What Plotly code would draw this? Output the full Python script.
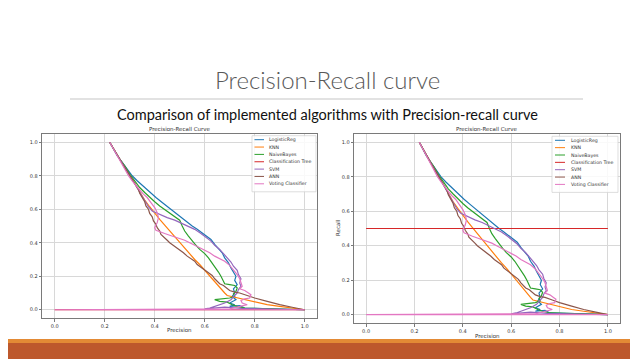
import plotly.graph_objects as go

W, H = 638, 359

names = ["LogisticReg", "KNN", "NaiveBayes", "Classification Tree", "SVM", "ANN", "Voting Classifier"]
colors = ["#1f77b4", "#ff7f0e", "#2ca02c", "#d62728", "#9467bd", "#8c564b", "#e377c2"]

tick_vals = [0.0, 0.2, 0.4, 0.6, 0.8, 1.0]
tick_text = ["0.0", "0.2", "0.4", "0.6", "0.8", "1.0"]

logreg_p = [0.22, 0.235, 0.25, 0.27, 0.29, 0.31, 0.33, 0.355, 0.38, 0.405, 0.43, 0.455, 0.48, 0.505, 0.53, 0.55,
            0.57, 0.59, 0.61, 0.625, 0.64, 0.655, 0.67, 0.68, 0.695, 0.705, 0.715, 0.725, 0.72, 0.73, 0.715, 0.72,
            0.71, 0.725, 0.70, 0.72, 0.70, 0.74, 0.76, 1.0]
logreg_r = [1.0, 0.96, 0.92, 0.88, 0.84, 0.80, 0.77, 0.735, 0.70, 0.67, 0.64, 0.61, 0.585, 0.555, 0.525, 0.50,
            0.48, 0.46, 0.44, 0.42, 0.39, 0.365, 0.34, 0.31, 0.28, 0.25, 0.225, 0.20, 0.175, 0.15, 0.125, 0.10,
            0.08, 0.06, 0.04, 0.03, 0.02, 0.025, 0.01, 0.0]

knn_p = [0.22, 0.24, 0.26, 0.28, 0.30, 0.32, 0.34, 0.36, 0.38, 0.40, 0.42, 0.44, 0.46, 0.48, 0.50, 0.52, 0.54,
         0.56, 0.58, 0.60, 0.62, 0.64, 0.66, 0.68, 0.69, 0.72, 0.76, 0.80, 0.85, 0.90, 0.95, 1.0]
knn_r = [1.0, 0.95, 0.90, 0.85, 0.80, 0.75, 0.70, 0.655, 0.615, 0.575, 0.54, 0.505, 0.47, 0.435, 0.40, 0.37, 0.335,
         0.30, 0.27, 0.235, 0.20, 0.165, 0.13, 0.10, 0.085, 0.075, 0.06, 0.045, 0.03, 0.02, 0.01, 0.0]

nb_p = [0.22, 0.24, 0.26, 0.28, 0.30, 0.32, 0.34, 0.36, 0.38, 0.40, 0.42, 0.44, 0.46, 0.48, 0.50, 0.51, 0.52,
        0.535, 0.55, 0.565, 0.58, 0.60, 0.615, 0.63, 0.64, 0.655, 0.665, 0.675, 0.68, 0.70, 0.72, 0.73, 0.725,
        0.715, 0.72, 0.70, 0.67, 0.64, 0.66, 0.69, 0.71, 0.73, 0.76, 1.0]
nb_r = [1.0, 0.95, 0.90, 0.86, 0.81, 0.77, 0.73, 0.70, 0.67, 0.645, 0.62, 0.60, 0.58, 0.56, 0.535, 0.50, 0.47,
        0.44, 0.41, 0.385, 0.36, 0.335, 0.31, 0.28, 0.255, 0.225, 0.20, 0.175, 0.155, 0.15, 0.145, 0.13, 0.11,
        0.095, 0.08, 0.07, 0.065, 0.06, 0.05, 0.045, 0.03, 0.02, 0.01, 0.0]

tree_left_p = [0.0, 1.0]
tree_left_r = [0.0, 0.0]
tree_right_p = [0.0, 1.0]
tree_right_r = [0.5, 0.5]

svm_p = [0.22, 0.24, 0.26, 0.28, 0.30, 0.32, 0.34, 0.36, 0.375, 0.39, 0.42, 0.45, 0.48, 0.51, 0.535, 0.56, 0.585,
         0.605, 0.625, 0.64, 0.66, 0.675, 0.69, 0.705, 0.715, 0.73, 0.735, 0.745, 0.74, 0.745, 0.735, 0.73, 0.72,
         0.705, 0.68, 0.65, 0.62, 0.60, 0.68, 0.75, 1.0]
svm_r = [1.0, 0.95, 0.90, 0.85, 0.80, 0.75, 0.70, 0.65, 0.615, 0.59, 0.57, 0.55, 0.535, 0.515, 0.50, 0.48, 0.455,
         0.435, 0.41, 0.385, 0.36, 0.335, 0.31, 0.285, 0.26, 0.235, 0.21, 0.185, 0.16, 0.14, 0.12, 0.10, 0.085,
         0.06, 0.04, 0.025, 0.01, 0.005, 0.015, 0.008, 0.0]

ann_p = [0.22, 0.235, 0.25, 0.265, 0.28, 0.295, 0.31, 0.32, 0.335, 0.34, 0.35, 0.36, 0.365, 0.375, 0.38, 0.39,
         0.395, 0.405, 0.41, 0.42, 0.425, 0.44, 0.45, 0.46, 0.475, 0.485, 0.50, 0.515, 0.53, 0.545, 0.56, 0.57,
         0.585, 0.60, 0.615, 0.63, 0.64, 0.65, 0.66, 0.675, 0.69, 0.70, 0.72, 0.74, 0.77, 0.80, 0.85, 0.90, 0.95, 1.0]
ann_r = [1.0, 0.96, 0.92, 0.885, 0.85, 0.815, 0.78, 0.75, 0.72, 0.695, 0.67, 0.645, 0.62, 0.60, 0.575, 0.555,
         0.53, 0.51, 0.49, 0.47, 0.45, 0.425, 0.415, 0.40, 0.385, 0.37, 0.355, 0.34, 0.32, 0.305, 0.29, 0.27,
         0.255, 0.24, 0.22, 0.205, 0.185, 0.17, 0.155, 0.145, 0.13, 0.115, 0.105, 0.10, 0.085, 0.07, 0.05, 0.03, 0.015, 0.0]

vote_p = [0.22, 0.235, 0.25, 0.265, 0.28, 0.295, 0.31, 0.325, 0.34, 0.355, 0.37, 0.385, 0.40, 0.41, 0.415, 0.41,
          0.40, 0.405, 0.42, 0.44, 0.46, 0.48, 0.50, 0.52, 0.54, 0.56, 0.58, 0.60, 0.62, 0.64, 0.66, 0.68, 0.70,
          0.715, 0.73, 0.74, 0.745, 0.75, 0.74, 0.76, 0.775, 0.785, 0.78, 0.76, 0.745, 0.75, 0.77, 0.74, 0.72,
          0.70, 0.0, 1.0]
vote_r = [1.0, 0.96, 0.92, 0.88, 0.84, 0.80, 0.77, 0.74, 0.715, 0.69, 0.67, 0.64, 0.61, 0.58, 0.55, 0.52,
          0.49, 0.475, 0.465, 0.455, 0.445, 0.435, 0.425, 0.415, 0.40, 0.385, 0.37, 0.355, 0.34, 0.32, 0.305, 0.29,
          0.265, 0.24, 0.21, 0.185, 0.16, 0.14, 0.125, 0.115, 0.10, 0.09, 0.07, 0.065, 0.055, 0.04, 0.03, 0.02,
          0.01, 0.005, 0.0, 0.0]

left_series = [(logreg_p, logreg_r), (knn_p, knn_r), (nb_p, nb_r), (tree_left_p, tree_left_r),
               (svm_p, svm_r), (ann_p, ann_r), (vote_p, vote_r)]
right_series = [(logreg_p, logreg_r), (knn_p, knn_r), (nb_p, nb_r), (tree_right_p, tree_right_r),
                (svm_p, svm_r), (ann_p, ann_r), (vote_p, vote_r)]


def px(x):
    return x / W


def py(y):
    return 1 - y / H


fig = go.Figure()
for (p, r), n, c in zip(left_series, names, colors):
    fig.add_trace(go.Scatter(x=p, y=r, mode="lines", name=n, line=dict(color=c, width=1.2),
                             xaxis="x", yaxis="y", showlegend=False))
for (p, r), n, c in zip(right_series, names, colors):
    fig.add_trace(go.Scatter(x=p, y=r, mode="lines", name=n, line=dict(color=c, width=1.2),
                             xaxis="x2", yaxis="y2", showlegend=False))

axis_common = dict(range=[-0.05, 1.05], tickvals=tick_vals, ticktext=tick_text, showgrid=True,
                   gridcolor="#d8d8d8", gridwidth=0.7, zeroline=False, showline=True, mirror=True,
                   linecolor="#7a7a7a", linewidth=0.8, ticks="outside", ticklen=2.5, tickcolor="#7a7a7a",
                   tickfont=dict(family="DejaVu Sans", size=5, color="#333333"))

fig.update_layout(
    width=W, height=H, margin=dict(l=0, r=0, t=0, b=0),
    paper_bgcolor="white", plot_bgcolor="white",
    xaxis=dict(domain=[px(34.2), px(309.2)], anchor="y", **axis_common),
    yaxis=dict(domain=[py(310.1), py(125.9)], anchor="x", **axis_common),
    xaxis2=dict(domain=[px(346.0), px(612.0)], anchor="y2", **axis_common),
    yaxis2=dict(domain=[py(315.3), py(125.7)], anchor="x2", **axis_common),
)

shapes = []
annotations = []

# slide decoration
shapes.append(dict(type="line", xref="paper", yref="paper", x0=px(62), x1=px(575), y0=py(91), y1=py(91),
                   line=dict(color="#d9d9d9", width=1.5)))
shapes.append(dict(type="rect", xref="paper", yref="paper", x0=0, x1=1, y0=py(335), y1=py(331),
                   line=dict(width=0), fillcolor="#e38a35"))
shapes.append(dict(type="rect", xref="paper", yref="paper", x0=0, x1=1, y0=0, y1=py(335),
                   line=dict(width=0), fillcolor="#bd582c"))

annotations.append(dict(text="Precision-Recall curve", xref="paper", yref="paper", x=0.5, y=py(72),
                        showarrow=False, xanchor="center", yanchor="middle",
                        font=dict(family="Lato", size=24, color="#595959", weight=300)))
annotations.append(dict(text="Comparison of implemented algorithms with Precision-recall curve", xref="paper",
                        yref="paper", x=0.5, y=py(106), showarrow=False, xanchor="center", yanchor="middle",
                        font=dict(family="Lato", size=14.5, color="#111111")))

small = dict(family="DejaVu Sans", size=5.5, color="#333333")

# chart titles and axis labels
annotations.append(dict(text="Precision-Recall Curve", xref="paper", yref="paper", x=px(171.7), y=py(121),
                        showarrow=False, xanchor="center", yanchor="middle", font=small))
annotations.append(dict(text="Precision", xref="paper", yref="paper", x=px(171.7), y=py(322),
                        showarrow=False, xanchor="center", yanchor="middle", font=small))
annotations.append(dict(text="Precision-Recall Curve", xref="paper", yref="paper", x=px(479), y=py(120.5),
                        showarrow=False, xanchor="center", yanchor="middle", font=small))
annotations.append(dict(text="Precision", xref="paper", yref="paper", x=px(479), y=py(327.5),
                        showarrow=False, xanchor="center", yanchor="middle", font=small))
annotations.append(dict(text="Recall", xref="paper", yref="paper", x=px(330), y=py(220),
                        showarrow=False, xanchor="center", yanchor="middle", textangle=-90, font=small))

# legends (manual, matplotlib-like)
def add_legend(box_x0, box_x1, top, spacing, line_x0, line_x1, text_x):
    n = len(names)
    shapes.append(dict(type="rect", xref="paper", yref="paper", x0=px(box_x0), x1=px(box_x1),
                       y0=py(top + 4 + spacing * (n - 1) + 4), y1=py(top - 4),
                       line=dict(color="#d0d0d0", width=0.7), fillcolor="rgba(255,255,255,0.85)"))
    for i, (nm, c) in enumerate(zip(names, colors)):
        yy = top + i * spacing
        shapes.append(dict(type="line", xref="paper", yref="paper", x0=px(line_x0), x1=px(line_x1),
                           y0=py(yy), y1=py(yy), line=dict(color=c, width=1)))
        annotations.append(dict(text=nm, xref="paper", yref="paper", x=px(text_x), y=py(yy),
                                showarrow=False, xanchor="left", yanchor="middle",
                                font=dict(family="DejaVu Sans", size=4.7, color="#333333")))


add_legend(244, 308, 131.7, 7.35, 246.5, 256, 259)
add_legend(544, 610, 132.3, 7.35, 547, 557, 560.5)

fig.update_layout(shapes=shapes, annotations=annotations)
fig.write_html("out.html")
